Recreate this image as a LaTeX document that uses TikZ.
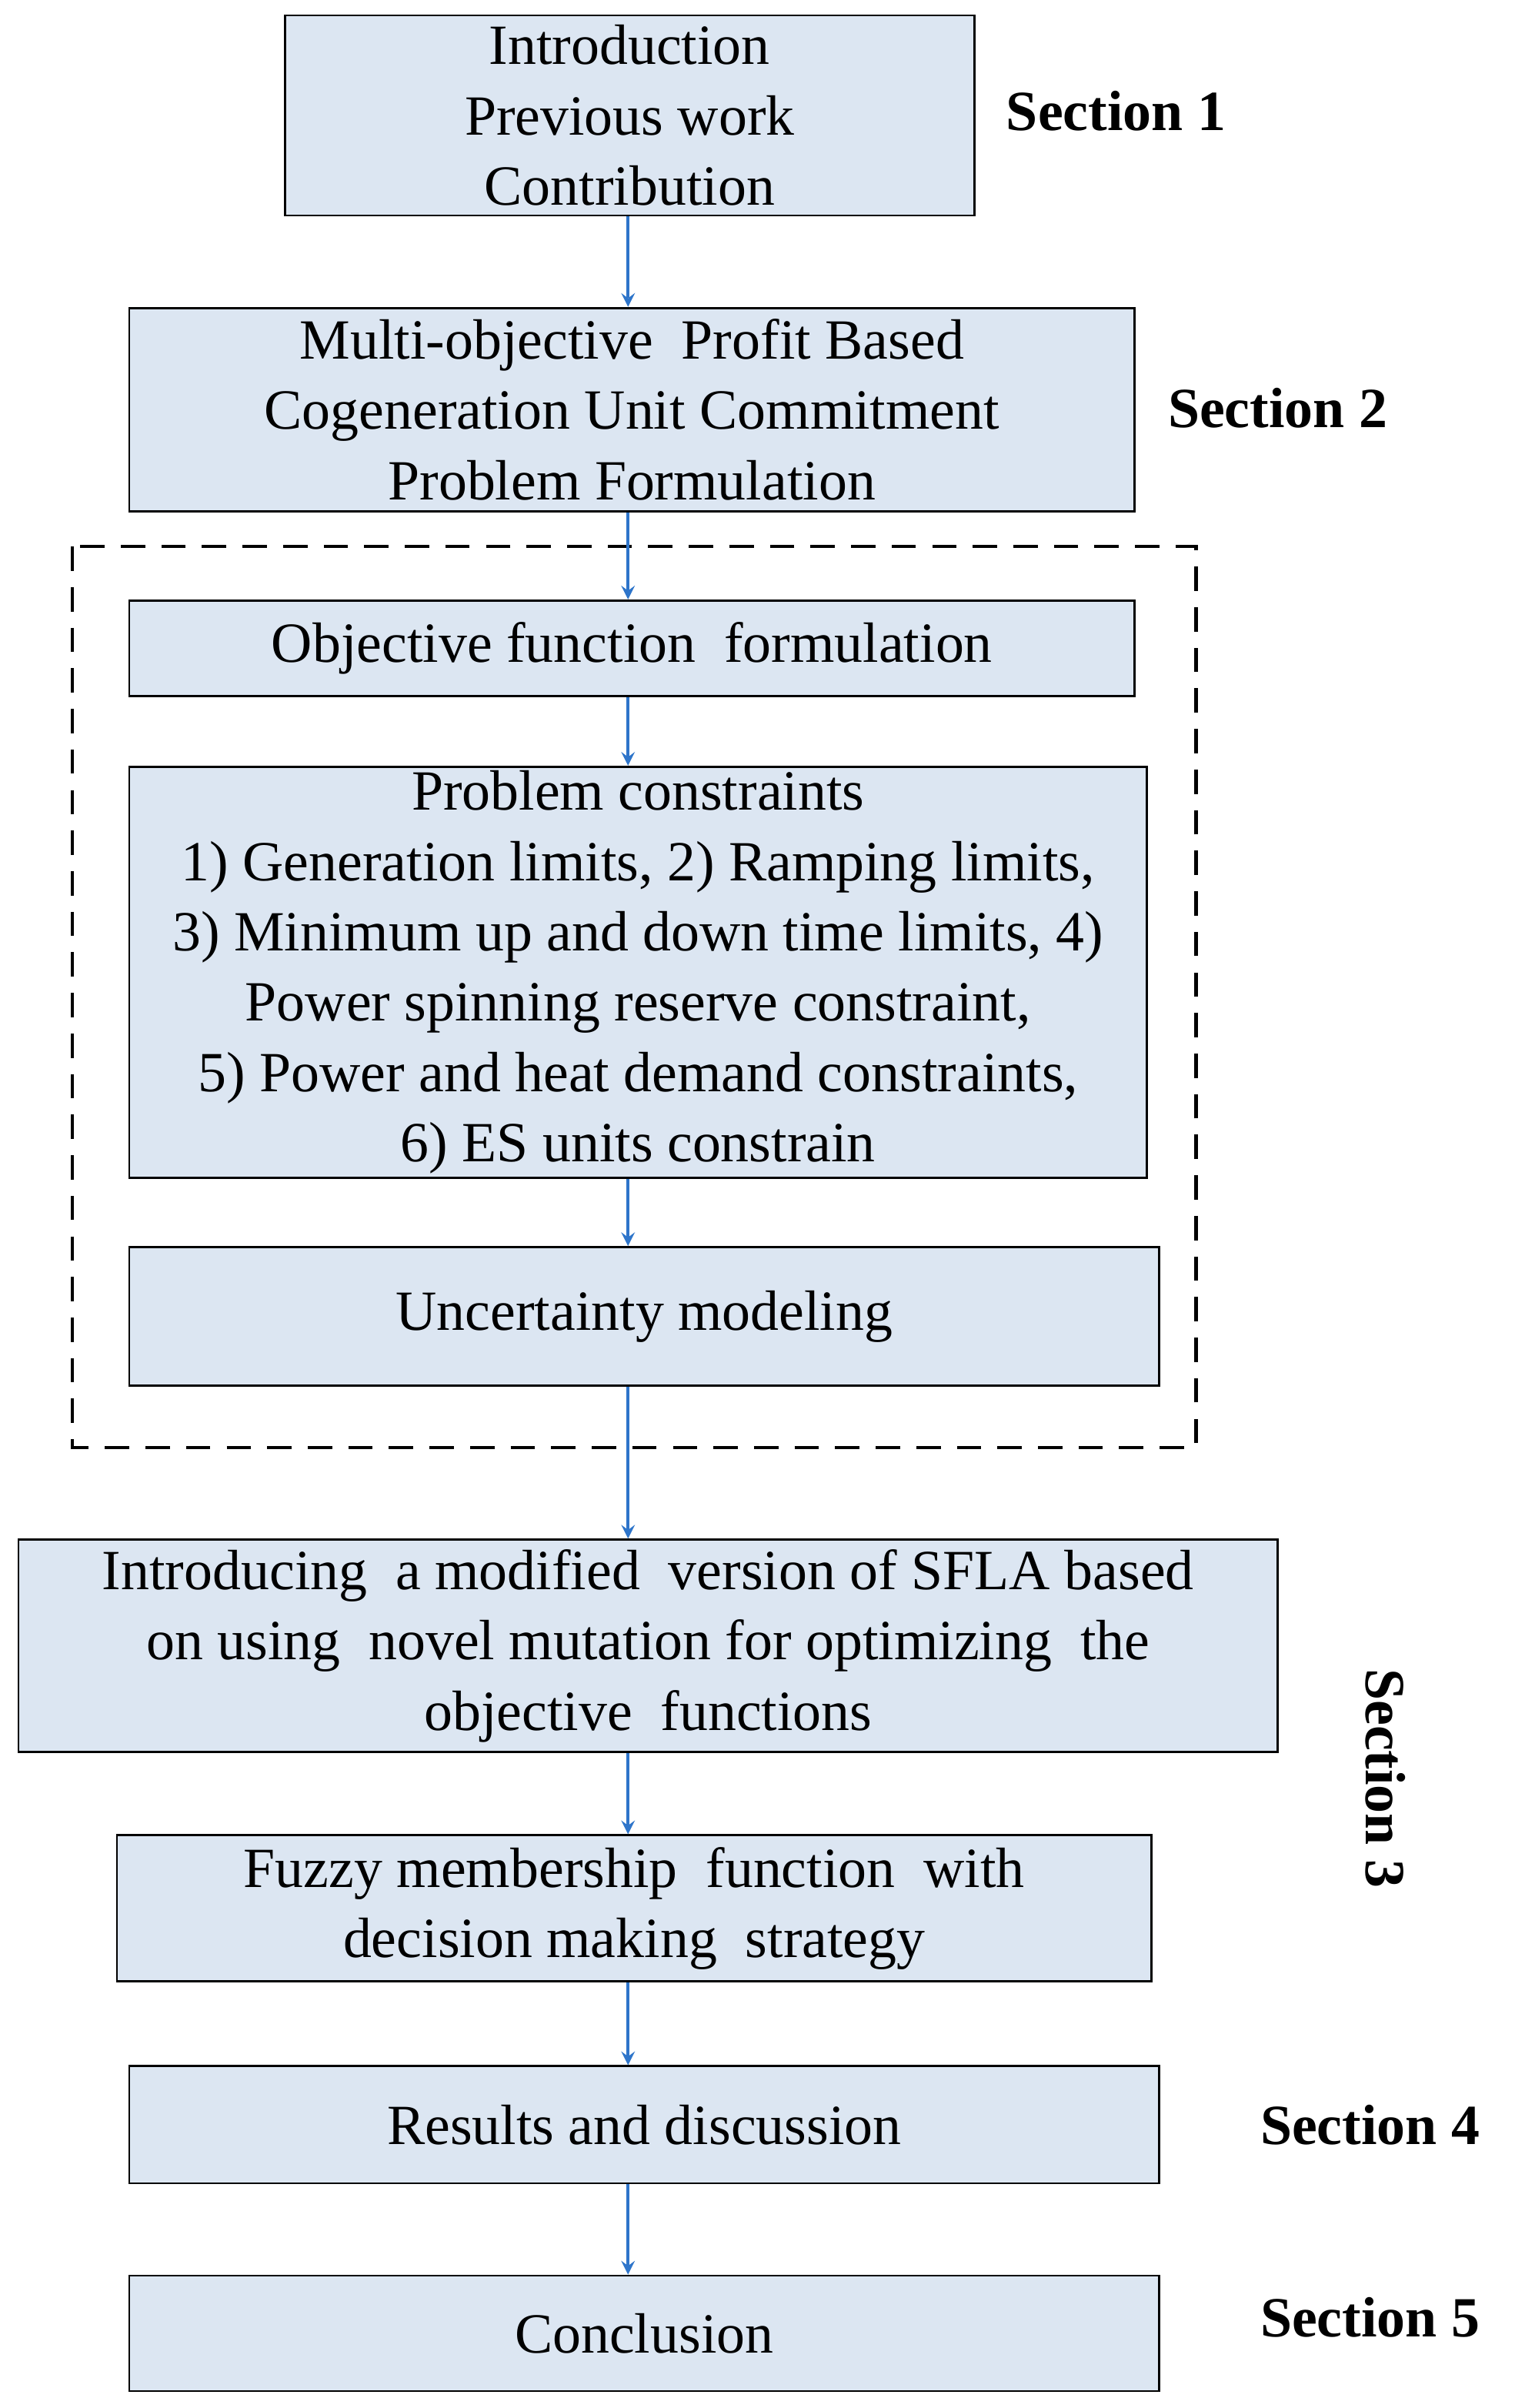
\documentclass[tikz,border=0pt]{standalone}
\usepackage{fontspec}
\setmainfont{Liberation Serif}
\usetikzlibrary{positioning}
\definecolor{boxfill}{RGB}{220,230,242}
\definecolor{arrowblue}{RGB}{46,117,202}
\tikzset{
  stage/.style={draw=black, thick, fill=boxfill, align=center, inner sep=0pt,
    font=\fontsize{21}{26}\selectfont},
  secname/.style={font=\fontsize{21}{26}\selectfont\bfseries},
  flow/.style={->, >=stealth, very thick, draw=arrowblue}
}
\begin{document}
\begin{tikzpicture}[x=0.02cm, y=-0.02cm]
\useasboundingbox (0,0) rectangle (984,1564);
% dashed frame
\draw[very thick, dash pattern=on 9pt off 6pt] (47,355) rectangle (777,940);
% stages
\node[stage, minimum width=448*0.02cm, minimum height=130*0.02cm] (intro) at (409,75)
  {Introduction\\Previous work\\Contribution};
\node[stage, minimum width=653*0.02cm, minimum height=132*0.02cm] (form) at (410.5,266)
  {Multi-objective\ \ Profit Based\\Cogeneration Unit Commitment\\Problem Formulation};
\node[stage, minimum width=653*0.02cm, minimum height=62*0.02cm] (obj) at (410.5,421)
  {Objective function\ \ formulation};
\node[stage, minimum width=661*0.02cm, minimum height=267*0.02cm] (cons) at (414.5,631.5)
  {Problem constraints\\1) Generation\ limits,\ 2) Ramping\ limits,\\3) Minimum up and down time limits,\ 4)\\Power spinning reserve constraint,\\5) Power and heat demand constraints,\\6) ES units constrain};
\node[stage, minimum width=669*0.02cm, minimum height=90*0.02cm] (unc) at (418.5,855)
  {Uncertainty modeling};
\node[stage, minimum width=818*0.02cm, minimum height=138*0.02cm] (sfla) at (421,1069)
  {Introducing\ \ a modified\ \ version of SFLA based\\on using\ \ novel mutation for optimizing\ \ the\\objective\ \ functions};
\node[stage, minimum width=672*0.02cm, minimum height=95*0.02cm] (fuzzy) at (412,1239.5)
  {Fuzzy\ membership\ \ function\ \ with\\decision making\ \ strategy};
\node[stage, minimum width=669*0.02cm, minimum height=76*0.02cm] (res) at (418.5,1380)
  {Results and discussion};
\node[stage, minimum width=669*0.02cm, minimum height=75*0.02cm] (concl) at (418.5,1515.5)
  {Conclusion};
% section labels
\node[secname] (s1) at (725,72) {Section 1};
\node[secname] (s2) at (830,265) {Section 2};
\node[secname, rotate=-90] (s3) at (900,1155) {Section 3};
\node[secname] (s4) at (890,1380) {Section 4};
\node[secname] (s5) at (890,1505) {Section 5};
% connectors
\coordinate (ax) at (408,0);
\draw[flow] (intro.south -| ax) -- (form.north -| ax);
\draw[flow] (form.south -| ax) -- (obj.north -| ax);
\draw[flow] (obj.south -| ax) -- (cons.north -| ax);
\draw[flow] (cons.south -| ax) -- (unc.north -| ax);
\draw[flow] (unc.south -| ax) -- (sfla.north -| ax);
\draw[flow] (sfla.south -| ax) -- (fuzzy.north -| ax);
\draw[flow] (fuzzy.south -| ax) -- (res.north -| ax);
\draw[flow] (res.south -| ax) -- (concl.north -| ax);
\end{tikzpicture}
\end{document}
